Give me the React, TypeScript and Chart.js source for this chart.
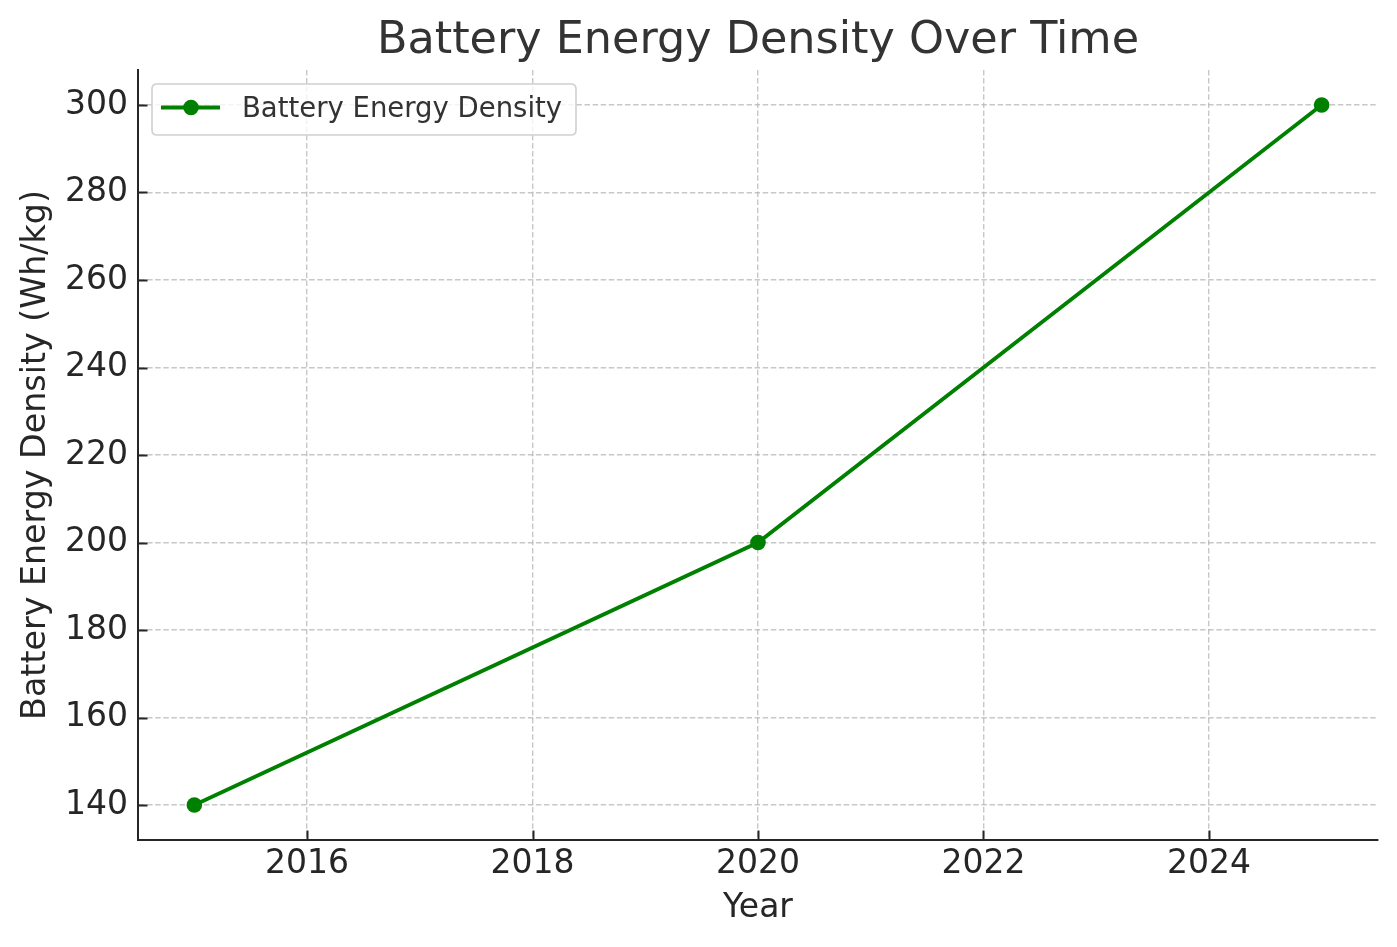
import React, { useEffect, useRef } from "react";
import { Chart, registerables } from "chart.js";

Chart.register(...registerables);

const years = [2015, 2020, 2025];
const density = [140, 200, 300];
const xTickValues = [2016, 2018, 2020, 2022, 2024];
const yTickValues = [140, 160, 180, 200, 220, 240, 260, 280, 300];
const seriesLabel = "Battery Energy Density";
const chartTitle = "Battery Energy Density Over Time";
const xTitle = "Year";
const yTitle = "Battery Energy Density (Wh/kg)";

const FONT = "'DejaVu Sans', 'Liberation Sans', sans-serif";
const GREEN = "#008000";
const DARK = "#262626";

const inwardTicks = {
  id: "inwardTicks",
  afterDraw(chart: any) {
    const { ctx, chartArea } = chart;
    const xs = chart.scales.x;
    const ys = chart.scales.y;
    ctx.save();
    ctx.strokeStyle = DARK;
    ctx.lineWidth = 2;
    ctx.beginPath();
    xs.ticks.forEach((t: any) => {
      const px = Math.round(xs.getPixelForValue(t.value)) + 0.5;
      ctx.moveTo(px, chartArea.bottom);
      ctx.lineTo(px, chartArea.bottom - 9.5);
    });
    ys.ticks.forEach((t: any) => {
      const py = Math.round(ys.getPixelForValue(t.value)) + 0.5;
      ctx.moveTo(chartArea.left, py);
      ctx.lineTo(chartArea.left + 9.5, py);
    });
    ctx.stroke();
    ctx.restore();
  },
};

const boxLegend = {
  id: "boxLegend",
  afterDraw(chart: any) {
    const { ctx, chartArea } = chart;
    const ds = chart.data.datasets[0];
    const x0 = chartArea.left + 14;
    const y0 = chartArea.top + 14;
    const w = 424;
    const h = 51;
    const r = 5;
    ctx.save();
    ctx.beginPath();
    ctx.moveTo(x0 + r, y0);
    ctx.lineTo(x0 + w - r, y0);
    ctx.quadraticCurveTo(x0 + w, y0, x0 + w, y0 + r);
    ctx.lineTo(x0 + w, y0 + h - r);
    ctx.quadraticCurveTo(x0 + w, y0 + h, x0 + w - r, y0 + h);
    ctx.lineTo(x0 + r, y0 + h);
    ctx.quadraticCurveTo(x0, y0 + h, x0, y0 + h - r);
    ctx.lineTo(x0, y0 + r);
    ctx.quadraticCurveTo(x0, y0, x0 + r, y0);
    ctx.closePath();
    ctx.fillStyle = "rgba(255,255,255,0.8)";
    ctx.fill();
    ctx.strokeStyle = "#d0d0d0";
    ctx.lineWidth = 1.6;
    ctx.stroke();

    const cy = y0 + 23.5;
    ctx.strokeStyle = ds.borderColor;
    ctx.lineWidth = ds.borderWidth;
    ctx.beginPath();
    ctx.moveTo(x0 + 9, cy);
    ctx.lineTo(x0 + 68, cy);
    ctx.stroke();
    ctx.fillStyle = ds.pointBackgroundColor;
    ctx.beginPath();
    ctx.arc(x0 + 39, cy, ds.pointRadius, 0, Math.PI * 2);
    ctx.fill();

    ctx.fillStyle = "#333333";
    ctx.font = `27.5px ${FONT}`;
    ctx.textAlign = "left";
    ctx.textBaseline = "alphabetic";
    ctx.fillText(ds.label, x0 + 90, cy + 9.5);
    ctx.restore();
  },
};

export default function App() {
  const ref = useRef<HTMLCanvasElement | null>(null);

  useEffect(() => {
    if (!ref.current) return;
    const points = years.map((y, i) => ({ x: y, y: density[i] }));
    const chart = new Chart(ref.current, {
      type: "line",
      data: {
        datasets: [
          {
            label: seriesLabel,
            data: points,
            borderColor: GREEN,
            backgroundColor: GREEN,
            pointBackgroundColor: GREEN,
            pointBorderWidth: 0,
            pointRadius: 7.8,
            borderWidth: 3.8,
            tension: 0,
            fill: false,
          },
        ],
      },
      options: {
        animation: false,
        responsive: false,
        devicePixelRatio: 1,
        layout: { padding: { left: 0, right: 19, top: 0, bottom: 0 } },
        plugins: {
          legend: { display: false },
          tooltip: { enabled: false },
          title: {
            display: true,
            text: chartTitle,
            fullSize: false,
            color: "#333333",
            font: { family: FONT, size: 44.5, weight: "normal", lineHeight: 1.2 },
            padding: { top: 15, bottom: 1.6 },
          },
        },
        scales: {
          x: {
            type: "linear",
            min: 2014.5,
            max: 2025.5,
            afterBuildTicks: (scale: any) => {
              scale.ticks = xTickValues.map((v) => ({ value: v }));
            },
            afterFit: (scale: any) => {
              scale.height = 107;
            },
            ticks: {
              color: DARK,
              padding: 5,
              maxRotation: 0,
              autoSkip: false,
              font: { family: FONT, size: 33, lineHeight: 1.2 },
              callback: (v: any) => String(v),
            },
            grid: {
              color: "rgba(176,176,176,0.7)",
              lineWidth: 1.4,
              drawTicks: false,
            },
            border: { display: true, color: DARK, width: 2, dash: [5.5, 2.6] },
            title: {
              display: true,
              text: xTitle,
              color: DARK,
              font: { family: FONT, size: 33, lineHeight: 1.2 },
              padding: { top: 0, bottom: 18.6 },
            },
          },
          y: {
            type: "linear",
            min: 132,
            max: 308,
            afterBuildTicks: (scale: any) => {
              scale.ticks = yTickValues.map((v) => ({ value: v }));
            },
            afterFit: (scale: any) => {
              scale.width = 138;
            },
            ticks: {
              color: DARK,
              padding: 10,
              autoSkip: false,
              font: { family: FONT, size: 33, lineHeight: 1.2 },
              callback: (v: any) => String(v),
            },
            grid: {
              color: "rgba(176,176,176,0.7)",
              lineWidth: 1.4,
              drawTicks: false,
            },
            border: { display: true, color: DARK, width: 2, dash: [5.5, 2.6] },
            title: {
              display: true,
              text: yTitle,
              color: DARK,
              font: { family: FONT, size: 33.3, lineHeight: 1.2 },
              padding: { top: 16, bottom: 0 },
            },
          },
        },
      },
      plugins: [inwardTicks, boxLegend],
    } as any);
    return () => chart.destroy();
  }, []);

  return (
    <div style={{ position: "fixed", left: 0, top: 0, width: 1397, height: 947, background: "#fff" }}>
      <canvas ref={ref} width={1397} height={947} style={{ width: 1397, height: 947, display: "block" }} />
    </div>
  );
}
